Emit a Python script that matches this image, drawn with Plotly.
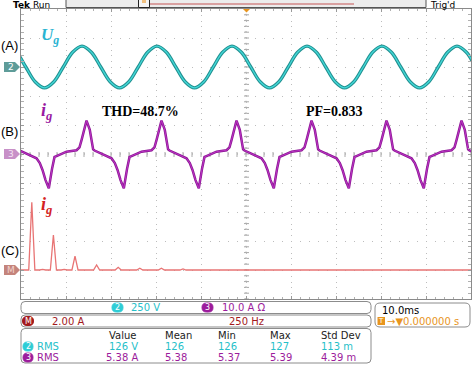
import plotly.graph_objects as go

# Channel 2: grid voltage Ug, key points (time in ms, value in V)
ug_t_ms = [-3.11, -1.03, 1.06, 3.14, 5.22, 7.31, 9.39, 11.47, 13.56, 15.64, 17.72, 19.81,
           21.89, 23.97, 26.06, 28.14, 30.22, 32.31, 34.39, 36.47, 38.56, 40.64, 42.72, 44.81,
           46.89, 48.97, 51.06, 53.14, 55.22, 57.31, 59.39, 61.47, 63.56, 65.64, 67.72, 69.81,
           71.89, 73.97, 76.06, 78.14, 80.22, 82.31, 84.39, 86.47, 88.56, 90.64, 92.72, 94.81,
           96.89, 98.97, 101.06, 103.14]
ug_v = [180, 127, 0, -127, -180, -127, 0, 127,
        180, 127, 0, -127, -180, -127, 0, 127,
        180, 127, 0, -127, -180, -127, 0, 127,
        180, 127, 0, -127, -180, -127, 0, 127,
        180, 127, 0, -127, -180, -127, 0, 127,
        180, 127, 0, -127, -180, -127, 0, 127,
        180, 127, 0, -127]

# Channel 3: grid current ig (time in ms, value in A)
ig_t_ms = [-6.55, -4.33, -3.67, -3.22, -2.67, -2.11, -1.38, -1.00, -0.64, -0.33, 1.22, 2.78, 3.45, 4.18, 4.78, 5.45, 6.18, 6.89, 7.45, 7.89,
           10.12, 12.34, 13.00, 13.45, 14.00, 14.56, 15.29, 15.67, 16.03, 16.34, 17.89, 19.45, 20.12, 20.85, 21.45, 22.12, 22.85, 23.56, 24.12, 24.56,
           26.78, 29.00, 29.66, 30.11, 30.66, 31.22, 31.95, 32.33, 32.69, 33.00, 34.55, 36.11, 36.78, 37.51, 38.11, 38.78, 39.51, 40.22, 40.78, 41.22,
           43.45, 45.67, 46.33, 46.78, 47.33, 47.89, 48.62, 49.00, 49.36, 49.67, 51.22, 52.78, 53.45, 54.18, 54.78, 55.45, 56.18, 56.89, 57.45, 57.89,
           60.12, 62.34, 63.00, 63.45, 64.00, 64.56, 65.29, 65.67, 66.03, 66.34, 67.89, 69.45, 70.12, 70.85, 71.45, 72.12, 72.85, 73.56, 74.12, 74.56,
           76.78, 79.00, 79.66, 80.11, 80.66, 81.22, 81.95, 82.33, 82.69, 83.00, 84.55, 86.11, 86.78, 87.51, 88.11, 88.78, 89.51, 90.22, 90.78, 91.22,
           93.45, 95.67, 96.33, 96.78, 97.33, 97.89, 98.62, 99.00, 99.36, 99.67, 101.22]
ig_a = [0.8, 1.3, 2.3, 4.8, 8.5, 11.5, 8.3, 4.5, 1.6, 1.2, 0.2, -1.0, -1.5, -3.1, -5.5, -9.0, -11.8, -5.2, -1.0, -0.7,
        0.8, 1.3, 2.3, 4.8, 8.5, 11.5, 8.3, 4.5, 1.6, 1.2, 0.2, -1.0, -1.5, -3.1, -5.5, -9.0, -11.8, -5.2, -1.0, -0.7,
        0.8, 1.3, 2.3, 4.8, 8.5, 11.5, 8.3, 4.5, 1.6, 1.2, 0.2, -1.0, -1.5, -3.1, -5.5, -9.0, -11.8, -5.2, -1.0, -0.7,
        0.8, 1.3, 2.3, 4.8, 8.5, 11.5, 8.3, 4.5, 1.6, 1.2, 0.2, -1.0, -1.5, -3.1, -5.5, -9.0, -11.8, -5.2, -1.0, -0.7,
        0.8, 1.3, 2.3, 4.8, 8.5, 11.5, 8.3, 4.5, 1.6, 1.2, 0.2, -1.0, -1.5, -3.1, -5.5, -9.0, -11.8, -5.2, -1.0, -0.7,
        0.8, 1.3, 2.3, 4.8, 8.5, 11.5, 8.3, 4.5, 1.6, 1.2, 0.2, -1.0, -1.5, -3.1, -5.5, -9.0, -11.8, -5.2, -1.0, -0.7,
        0.8, 1.3, 2.3, 4.8, 8.5, 11.5, 8.3, 4.5, 1.6, 1.2, 0.2]

# Math channel: FFT of ig (frequency in Hz, magnitude in A)
fft_f_hz = [0, 43, 60, 77, 103, 120, 137, 163, 180, 197, 223, 240, 257, 283, 300, 317,
            403, 420, 437, 523, 540, 557, 643, 660, 677, 763, 780, 797, 883, 900, 917,
            1003, 1020, 1037, 1123, 1140, 1157, 1243, 1260, 1277, 2500]
fft_a = [0, 0, 4.67, 0, 0, 0.04, 0, 0, 2.41, 0, 0, 0.04, 0, 0, 0.95, 0,
         0, 0.35, 0, 0, 0.19, 0, 0, 0.12, 0, 0, 0.12, 0, 0, 0.07, 0,
         0, 0.04, 0, 0, 0.03, 0, 0, 0.03, 0, 0]

# Measurement readout
meas_headers = ["Value", "Mean", "Min", "Max", "Std Dev"]
meas_ch2 = ["126 V", "126", "126", "127", "113 m"]
meas_ch3 = ["5.38 A", "5.38", "5.37", "5.39", "4.39 m"]
ch2_scale_txt, ch3_scale_txt = "250 V", "10.0 A \u03a9"
math_scale_txt, math_span_txt = "2.00 A", "250 Hz"
time_scale_txt, trig_pos_txt = "10.0ms", "\u2192\u25bc0.000000 s"

# ---------------- screen settings ----------------
CH2_VDIV, CH2_POS = 250.0, 3.0
CH3_VDIV, CH3_POS = 10.0, 0.0
M_VDIV, M_POS = 2.0, -4.0

W, H = 474, 366
L, R, T, B = 21, 471, 9, 299


def X(px):
    return (px - L) / (R - L)


def Y(py):
    return (B - py) / (B - T)


CYAN = "#26bfc9"
PURPLE = "#9c1c9c"
DRED = "#a3191c"
ORANGE = "#e8951e"
GRIDC = "#bdbdbd"

fig = go.Figure()

# channel 2 (two layers to mimic the noisy phosphor trace)
y2 = [v / CH2_VDIV + CH2_POS for v in ug_v]
fig.add_trace(go.Scatter(x=ug_t_ms, y=y2, mode="lines", line=dict(color="#229090", width=3.4, shape="spline"),
                         hoverinfo="skip"))
fig.add_trace(go.Scatter(x=ug_t_ms, y=y2, mode="lines", line=dict(color="#43d8d8", width=1.3, shape="spline"),
                         hoverinfo="skip"))
# channel 3
y3 = [a / CH3_VDIV + CH3_POS for a in ig_a]
fig.add_trace(go.Scatter(x=ig_t_ms, y=y3, mode="lines", line=dict(color="#8e1896", width=2.5),
                         hoverinfo="skip"))
fig.add_trace(go.Scatter(x=ig_t_ms, y=y3, mode="lines", line=dict(color="#bb34c4", width=1.0),
                         hoverinfo="skip"))
# math FFT
ym = [a / M_VDIV + M_POS for a in fft_a]
fig.add_trace(go.Scatter(x=fft_f_hz, y=ym, xaxis="x2", mode="lines", line=dict(color="#e87474", width=1.3),
                         hoverinfo="skip"))

shapes = []
ann = []


def txt(s, px, py, color="black", size=10, family="DejaVu Sans", anchor="left", yanchor="middle"):
    ann.append(dict(text=s, x=X(px), y=Y(py), xref="paper", yref="paper", showarrow=False,
                    xanchor=anchor, yanchor=yanchor, font=dict(color=color, size=size, family=family)))


def rrect(x0, y0, x1, y1, r, line="#8c8c8c", fill="white", lw=1):
    p = (f"M {X(x0 + r)},{Y(y0)} L {X(x1 - r)},{Y(y0)} Q {X(x1)},{Y(y0)} {X(x1)},{Y(y0 + r)} "
         f"L {X(x1)},{Y(y1 - r)} Q {X(x1)},{Y(y1)} {X(x1 - r)},{Y(y1)} "
         f"L {X(x0 + r)},{Y(y1)} Q {X(x0)},{Y(y1)} {X(x0)},{Y(y1 - r)} "
         f"L {X(x0)},{Y(y0 + r)} Q {X(x0)},{Y(y0)} {X(x0 + r)},{Y(y0)} Z")
    shapes.append(dict(type="path", path=p, xref="paper", yref="paper",
                       line=dict(color=line, width=lw), fillcolor=fill, layer="above"))


def pill(s, cx, cy, fill, w=11, h=9, tc="white"):
    rrect(cx - w / 2, cy - h / 2, cx + w / 2, cy + h / 2, h / 2, line=fill, fill=fill)
    txt(s, cx, cy, color=tc, size=8, family="DejaVu Sans", anchor="center")


# centre cross with ticks
shapes.append(dict(type="line", xref="paper", yref="paper", x0=X(246), x1=X(246), y0=0, y1=1,
                   line=dict(color="#9a9a9a", width=1, dash="1px,4.8px"), layer="below"))
shapes.append(dict(type="line", xref="paper", yref="paper", x0=0, x1=1, y0=Y(154), y1=Y(154),
                   line=dict(color="#9a9a9a", width=1, dash="1px,8px"), layer="below"))
for k in range(51):
    py = T + k * (B - T) / 50
    shapes.append(dict(type="line", xref="paper", yref="paper", x0=X(244), x1=X(249), y0=Y(py), y1=Y(py),
                       line=dict(color="#a8a8a8", width=1), layer="below"))
for k in range(51):
    px = L + k * (R - L) / 50
    shapes.append(dict(type="line", xref="paper", yref="paper", x0=X(px), x1=X(px), y0=Y(152), y1=Y(157),
                       line=dict(color="#a8a8a8", width=1), layer="below"))

# top status bar
shapes.append(dict(type="rect", xref="paper", yref="paper", x0=X(66), x1=X(426), y0=Y(-3), y1=Y(7.5),
                   line=dict(color="#555", width=1), fillcolor="#ececec"))
shapes.append(dict(type="line", xref="paper", yref="paper", x0=X(150), x1=X(354), y0=Y(4), y1=Y(4),
                   line=dict(color="#d8a0a0", width=2)))
shapes.append(dict(type="rect", xref="paper", yref="paper", x0=X(138.5), x1=X(149.5), y0=Y(-3), y1=Y(7.5),
                   line=dict(color="#222", width=1), fillcolor="#f4f4f4"))
shapes.append(dict(type="rect", xref="paper", yref="paper", x0=X(142), x1=X(146), y0=Y(-1), y1=Y(3),
                   line=dict(color=ORANGE, width=0), fillcolor="#f0c080"))
shapes.append(dict(type="path", xref="paper", yref="paper",
                   path=f"M {X(243)},{Y(9)} L {X(250)},{Y(9)} L {X(246.5)},{Y(12.5)} Z",
                   fillcolor=ORANGE, line=dict(width=0)))
ann.append(dict(text="<b>Tek</b> Run", x=X(11), y=Y(4.5), xref="paper", yref="paper", showarrow=False,
                xanchor="left", yanchor="middle", font=dict(size=9, family="DejaVu Sans", color="black")))
txt("Trig'd", 428, 4.5, size=9)

# left channel markers
def marker(s, cy, fill, tc):
    p = (f"M {X(4)},{Y(cy - 5)} L {X(15)},{Y(cy - 5)} L {X(20)},{Y(cy)} L {X(15)},{Y(cy + 5)} "
         f"L {X(4)},{Y(cy + 5)} Z")
    shapes.append(dict(type="path", path=p, xref="paper", yref="paper", fillcolor=fill, line=dict(width=0)))
    txt(s, 10.5, cy, color=tc, size=9, anchor="center")


marker("2", 67, "#5e9c99", "white")
marker("3", 154, "#c890c8", "#f4e4f4")
marker("M", 270, "#c4847c", "#f2d2cc")

# panel labels
for lab, py in [("(A)", 45), ("(B)", 131), ("(C)", 250)]:
    txt(lab, -1, py, size=13, family="Liberation Sans")

# waveform labels
txt("<b><i>U</i></b><sub><b><i>g</i></b></sub>", 39, 36, color="#2ab4d2", size=17, family="Liberation Serif")
txt("<b><i>i</i></b><sub><b><i>g</i></b></sub>", 39, 111, color="#9a1aa2", size=18, family="Liberation Serif")
txt("<b><i>i</i></b><sub><b><i>g</i></b></sub>", 39, 205, color="#d42222", size=18, family="Liberation Serif")
txt("<b>THD=48.7%</b>", 100, 111, size=14, family="Liberation Serif")
txt("<b>PF=0.833</b>", 304, 111, size=14, family="Liberation Serif")

# bottom readout panel
rrect(21, 301.5, 371, 313.5, 4)
rrect(21, 315, 371, 327, 4)
rrect(21, 328.5, 371, 363, 4)
rrect(375, 303, 470, 327, 5)
pill("2", 117.5, 307.5, "#2ecdd6")
txt(ch2_scale_txt, 129, 307.5, color=CYAN)
pill("3", 207.5, 307.5, PURPLE)
txt(ch3_scale_txt, 220, 307.5, color=PURPLE)
pill("M", 28, 321, DRED)
txt(math_scale_txt, 50, 321, color=DRED)
txt(math_span_txt, 227, 321, color=DRED)
txt(time_scale_txt, 380, 310, color="black")
shapes.append(dict(type="rect", xref="paper", yref="paper", x0=X(377.5), x1=X(385), y0=Y(325), y1=Y(317),
                   line=dict(width=0), fillcolor=ORANGE))
txt("T", 381.2, 321, color="white", size=7, anchor="center")
txt(trig_pos_txt, 385, 321, color=ORANGE)

col_x = [107, 163, 216, 268, 319]
for cx, hname in zip(col_x, meas_headers):
    txt(hname, cx, 335, color="#222")
pill("2", 28, 346.5, "#2ecdd6", w=10)
txt("RMS", 35, 346.5, color=CYAN)
pill("3", 28, 357.5, PURPLE, w=10)
txt("RMS", 35, 357.5, color=PURPLE)
for cx, v in zip(col_x, meas_ch2):
    txt(v, cx, 346.5, color=CYAN)
for cx, v in zip(col_x, meas_ch3):
    txt(v, cx - (3 if v.endswith("A") else 0), 357.5, color=PURPLE)

axis_common = dict(showticklabels=False, zeroline=False, showline=True, mirror="allticks",
                   linecolor="#8a8a8a", linewidth=1, ticks="inside", tickcolor="#9a9a9a", ticklen=3,
                   gridcolor=GRIDC, gridwidth=1, fixedrange=True)

fig.update_layout(
    width=W, height=H, margin=dict(l=L, r=W - R, t=T, b=H - B, pad=0),
    paper_bgcolor="white", plot_bgcolor="white", showlegend=False,
    xaxis=dict(range=[0, 100], dtick=10, showgrid=True, griddash="1px,4.8px",
               minor=dict(ticks="inside", dtick=2, ticklen=2, tickcolor="#b0b0b0", showgrid=False),
               **axis_common),
    xaxis2=dict(range=[0, 2500], overlaying="x", visible=False, fixedrange=True),
    yaxis=dict(range=[-5, 5], dtick=1, showgrid=True, griddash="1px,8px",
               minor=dict(ticks="inside", dtick=0.2, ticklen=2, tickcolor="#b0b0b0", showgrid=False),
               **axis_common),
    shapes=shapes, annotations=ann,
)

fig.write_html("out.html", config={"displayModeBar": False},
               post_script="document.body.style.margin='0';document.body.style.overflow='hidden';")
